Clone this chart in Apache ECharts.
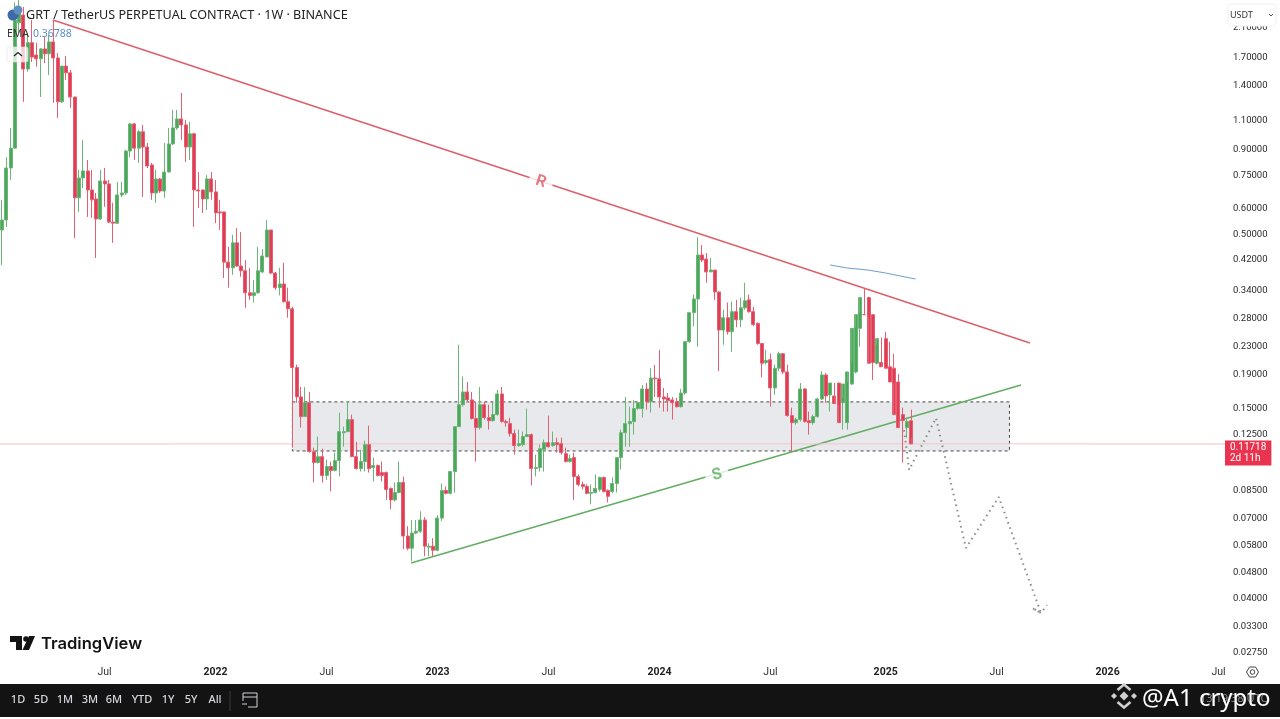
<!DOCTYPE html>
<html><head><meta charset="utf-8">
<style>html,body{margin:0;padding:0;background:#fff;overflow:hidden}#chart{width:1280px;height:719px;filter:blur(.35px)}</style>
<script src="https://cdn.jsdelivr.net/npm/echarts@6/dist/echarts.min.js"></script>
</head><body><div id="chart"></div>
<script>
const opens=[.516,.553,.793,.91,2.17,2.29,1.574,1.89,1.735,1.69,1.81,1.75,1.90,1.70,1.254,1.607,1.533,1.297,.645,.74,.777,.681,.64,.557,.725,.71,.545,.541,.658,.667,.892,1.076,.91,1.019,.917,.81,.667,.735,.676,.771,.937,1.047,1.114,1.069,.917,1.005,.681,.681,.64,.735,.672,.585,.585,.413,.397,.472,.402,.389,.334,.328,.334,.386,.428,.516,.383,.346,.355,.314,.299,.199,.1623,.1416,.156,.1111,.103,.1073,.0942,.1002,.0975,.1044,.1267,.1276,.1387,.1073,.0988,.1037,.1166,.0995,.1009,.0961,.0961,.0861,.0795,.0837,.0897,.0619,.0569,.0632,.064,.0692,.0573,.0577,.0561,.0701,.0849,.0832,.0968,.1321,.1538,.168,.159,.1397,.1312,.1538,.1406,.1377,.1436,.1657,.1368,.1349,.1259,.1158,.1166,.1233,.125,.0988,.0995,.1126,.1182,.1158,.1182,.1174,.1096,.1037,.1066,.0935,.0885,.0873,.0832,.0837,.0855,.0929,.0849,.0843,.0891,.1066,.1267,.1349,.1368,.1497,.1497,.1715,.157,.185,.184,.1623,.1612,.159,.157,.1517,.1668,.238,.291,.32,.434,.422,.386,.391,.336,.258,.281,.255,.293,.277,.301,.318,.293,.27,.235,.206,.21,.1727,.198,.219,.193,.1426,.1358,.1387,.1715,.1377,.1358,.1416,.16,.189,.1646,.1634,.1787,.156,.1358,.1775,.193,.261,.287,.323,.287,.205,.206,.243,.2,.198,.18,.1436,.1312,.1377,.1368];
const closes=[.553,.793,.91,2.21,2.40,1.574,1.89,1.71,1.69,1.81,1.75,1.90,1.70,1.254,1.607,1.533,1.297,.645,.74,.777,.681,.636,.557,.725,.71,.545,.541,.658,.667,.892,1.076,.91,1.019,.917,.804,.667,.735,.676,.771,.937,1.047,1.114,1.069,.917,1.005,.681,.676,.64,.735,.672,.581,.581,.413,.397,.472,.402,.389,.334,.328,.334,.389,.431,.516,.383,.346,.355,.314,.299,.199,.1623,.1416,.156,.1111,.103,.1073,.0942,.1002,.0975,.1044,.1276,.1276,.1387,.1073,.0988,.1037,.1166,.0988,.1009,.0942,.0942,.0855,.0795,.0837,.0897,.0619,.0569,.0632,.064,.0692,.0577,.0577,.0561,.0701,.0849,.0832,.0968,.1321,.1538,.168,.159,.1397,.1312,.1538,.1406,.1377,.1436,.1657,.1368,.1358,.1259,.1158,.1174,.1233,.125,.0988,.0995,.1134,.1182,.115,.1182,.1166,.1103,.1037,.1059,.0935,.0885,.0873,.0832,.0837,.0861,.0929,.0843,.0815,.0891,.1066,.1267,.1349,.1368,.1497,.156,.1715,.157,.185,.184,.1623,.16,.158,.156,.1517,.1668,.238,.291,.32,.434,.419,.386,.391,.336,.258,.281,.255,.293,.277,.301,.316,.293,.268,.235,.205,.209,.1727,.198,.219,.193,.1426,.1358,.1387,.1715,.1368,.1358,.1416,.16,.189,.1634,.1787,.155,.1358,.1775,.193,.261,.287,.323,.287,.205,.206,.243,.2,.198,.18,.1436,.1312,.1377,.1368,.11718];
const lows=[.405,.527,.73,.91,2.02,1.254,1.545,1.654,1.60,1.297,1.64,1.51,1.245,1.122,1.245,1.46,1.203,.488,.585,.69,.565,.561,.425,.553,.606,.541,.472,.538,.649,.658,.854,.8385,.821,.649,.793,.636,.623,.667,.645,.771,.93,1.033,.963,.827,.8385,.527,.602,.581,.593,.636,.541,.516,.37,.346,.378,.40,.373,.301,.318,.312,.332,.383,.428,.38,.341,.328,.312,.281,.1142,.156,.1312,.1416,.1103,.0897,.1023,.0897,.0913,.0843,.0968,.0935,.115,.1276,.1073,.0981,.0968,.0968,.0961,.0903,.0935,.0903,.0795,.0745,.0787,.0832,.0565,.0561,.052,.0627,.0632,.0538,.0538,.0538,.0557,.0687,.0826,.0826,.0837,.1321,.1517,.157,.1387,.1037,.1294,.1387,.1294,.1368,.1426,.1358,.1321,.1233,.1088,.115,.115,.1233,.0879,.0935,.0968,.0968,.1142,.115,.1103,.1088,.103,.103,.0795,.0873,.0855,.0826,.0771,.0832,.0843,.0837,.0782,.0832,.0837,.0981,.115,.115,.125,.1486,.1406,.1486,.1456,.1623,.1507,.1466,.1466,.1387,.1507,.1507,.1646,.236,.265,.23,.413,.358,.386,.318,.194,.233,.25,.222,.263,.263,.297,.291,.265,.233,.186,.203,.1517,.1646,.194,.19,.1416,.1111,.134,.1368,.1358,.125,.134,.1406,.159,.156,.1466,.1634,.1538,.1294,.1294,.1763,.191,.23,.287,.283,.1825,.203,.205,.199,.18,.1787,.1368,.103,.1224,.1224,.1111];
const highs=[.636,.854,1.047,2.50,2.54,2.42,2.02,2.21,1.89,1.82,1.965,1.993,2.21,1.76,1.607,1.724,1.565,1.297,.782,.963,.8385,.782,.667,.782,.793,.73,.623,.72,.72,.899,1.084,1.084,1.033,1.069,.943,.821,.782,.74,.943,1.047,1.186,1.186,1.334,1.107,1.092,1.012,.771,.681,.755,.771,.73,.636,.585,.459,.499,.523,.509,.419,.397,.365,.459,.452,.553,.516,.386,.397,.411,.346,.303,.203,.1739,.1739,.168,.1142,.1233,.1134,.1051,.1037,.1103,.1456,.1321,.158,.1436,.119,.1126,.1199,.133,.1066,.1016,.1037,.0968,.0867,.0897,.1037,.0935,.0663,.0692,.0692,.0735,.0706,.0589,.061,.0715,.0891,.0873,.0968,.1321,.233,.187,.18,.168,.157,.1739,.157,.1538,.157,.1703,.1739,.1387,.1406,.1294,.1294,.1276,.1497,.1259,.1088,.1166,.1207,.1426,.1276,.1224,.1224,.1142,.1088,.1103,.0948,.0903,.0885,.0885,.0948,.0935,.0935,.0855,.0929,.1066,.1294,.1623,.1517,.159,.157,.1763,.1787,.198,.2026,.225,.1727,.1668,.1623,.1612,.1715,.238,.293,.33,.491,.465,.44,.425,.391,.336,.297,.312,.314,.318,.323,.358,.33,.303,.272,.236,.225,.219,.203,.222,.22,.203,.1507,.1406,.1787,.1727,.1466,.1436,.1612,.194,.1915,.1787,.1787,.1787,.1612,.18,.207,.263,.291,.344,.325,.287,.233,.245,.255,.238,.219,.19,.1507,.1406,.1486,.1368];
const tickWeeks=['2021-07-05','2022-01-03','2022-07-04','2023-01-02','2023-07-03','2024-01-01','2024-07-01','2025-01-06','2025-07-07','2026-01-05','2026-07-06'];
const tickLabels=['Jul','2022','Jul','2023','Jul','2024','Jul','2025','Jul','2026','Jul'];
const priceTicks=[2.1,1.7,1.4,1.1,.9,.75,.6,.5,.42,.34,.28,.23,.19,.15,.125,.105,.085,.07,.058,.048,.04,.033,.0275];
const lastPrice=.11718;
const lastPriceLine=[[-.5,lastPrice],[286.5,lastPrice]];
const resistance=[[11.92,2.212],[240.8,.2359]];
const support=[[95.8,.05137],[238.7,.1763]];
const emaLine=[[194,.405],[198,.3965],[202.9,.391],[207,.383],[210.5,.375],[214,.3675]];
const projection=[[211.3,.129],[212.5,.098],[218.8,.1402],[225.8,.05697],[233.5,.0811],[243.4,.0363],[241.3,.0376],[243.4,.0363],[244.8,.03837]];
const zoneWeeks=[68,236], zonePrices=[.1568,.1116];
const lineTags=[{name:'R',at:[126.2,.72],rot:-18,color:'#dc5a68'},{name:'S',at:[167.5,.0945],rot:16,color:'#5fae62'}];
const periods=['1D','5D','1M','3M','6M','YTD','1Y','5Y','All'];
const periodX=[18,41,65,90,114,142,168,191,215];

const weeks=[];
for(let i=0;i<287;i++){weeks.push(new Date(Date.UTC(2021,0,18)+i*7*864e5).toISOString().slice(0,10));}
const green='#4aa85b',red='#e03d55';
const candles=opens.map((o,i)=>[o,closes[i],lows[i],highs[i]]);
const T=(x,y,text,o)=>({type:'text',x,y,z:100,silent:true,style:Object.assign({text,font:'12px "Noto Sans"',fill:'#222',textVerticalAlign:'middle'},o||{})});
const footer=periods.map((p,i)=>T(periodX[i],700,p,{fill:'#d6d8de',font:'500 11px "Noto Sans"',textAlign:'center'}));
const chart=echarts.init(document.getElementById('chart'));
chart.setOption({
 animation:false,
 backgroundColor:'#fff',
 grid:{left:-1,top:0,width:1226,height:660},
 xAxis:[{type:'category',data:weeks,boundaryGap:true,axisLine:{show:false},axisTick:{show:false},splitLine:{show:false},
   axisLabel:{interval:i=>tickWeeks.includes(weeks[i]),hideOverlap:false,margin:7,
     formatter:v=>{const k=tickWeeks.indexOf(v);if(k<0)return '';const t=tickLabels[k];return /^\d/.test(t)?'{b|'+t+'}':'{n|'+t+'}';},
     rich:{b:{fontFamily:'Roboto',fontWeight:700,fontSize:10.5,color:'#222'},n:{fontFamily:'Roboto',fontSize:10.5,color:'#333'}}}},
  {type:'value',min:-.5,max:286.5,show:false}],
 yAxis:{type:'log',logBase:10,min:.02622,max:2.54,position:'right',axisLine:{show:false},axisTick:{show:false},splitLine:{show:false},minorSplitLine:{show:false},
   axisLabel:{customValues:priceTicks,margin:8,padding:[2,0,0,0],fontFamily:'Roboto',fontSize:9.5,color:'#2a2a2a',formatter:v=>(+v).toFixed(5)}},
 series:[
  {type:'line',name:'S',xAxisIndex:1,z:2,data:support,showSymbol:false,silent:true,lineStyle:{color:'#62ad62',width:1.5}},
  {type:'line',name:'Zone',xAxisIndex:1,z:3,data:[[zoneWeeks[0],zonePrices[0]],[zoneWeeks[1],zonePrices[1]]],showSymbol:false,silent:true,lineStyle:{width:0,opacity:0},
   markArea:{silent:true,itemStyle:{color:'rgba(120,123,144,.17)',borderColor:'#444',borderWidth:1,borderType:[3,3]},
    data:[[{coord:[zoneWeeks[0],zonePrices[0]]},{coord:[zoneWeeks[1],zonePrices[1]]}]]}},
  {type:'line',name:'Last price',xAxisIndex:1,z:3,data:lastPriceLine,showSymbol:false,silent:true,lineStyle:{color:'#f3c4ca',width:1},
   endLabel:{show:true,distance:0,offset:[0,9],formatter:'0.11718\n2d 11h',backgroundColor:'#e8344e',color:'#fff',fontFamily:'Roboto',fontSize:10,lineHeight:11.5,padding:[1,5],align:'left'}},
  {type:'candlestick',name:'GRTUSDT',z:4,barWidth:3.5,data:candles,silent:true,
   itemStyle:{color:green,color0:red,borderColor:'#6bb577',borderColor0:'#e45f72',borderWidth:1}},
  {type:'line',name:'R',xAxisIndex:1,z:5,data:resistance,showSymbol:false,silent:true,lineStyle:{color:'#dd5f6b',width:1.5}},
  {type:'line',name:'EMA',xAxisIndex:1,z:5,data:emaLine,showSymbol:false,silent:true,lineStyle:{color:'#6f9bd1',width:1}},
  {type:'line',name:'Projection',xAxisIndex:1,z:5,data:projection,showSymbol:false,silent:true,lineStyle:{color:'#8a8a8a',width:2,type:[1.5,4]}},
  {type:'scatter',name:'Tags',xAxisIndex:1,z:6,symbolSize:1,silent:true,itemStyle:{color:'rgba(0,0,0,0)'},
   data:lineTags.map(t=>({value:t.at,label:{show:true,position:'inside',formatter:t.name,rotate:t.rot,color:t.color,fontFamily:'Roboto',fontWeight:700,fontSize:16,backgroundColor:'#fff',padding:[0,7]}}))}
 ],
 graphic:[
  T(26,15.5,'GRT / TetherUS PERPETUAL CONTRACT · 1W · BINANCE',{font:'12.6px "Noto Sans"'}),
  T(7,34,'EMA',{font:'10.5px "Noto Sans"',fill:'#333'}),
  T(33,34,'0.36788',{font:'10.5px "Noto Sans"',fill:'#5b8ecb'}),
  {type:'circle',z:100,silent:true,shape:{cx:13,cy:15,r:5.5},style:{fill:'#3e6aa8'}},
  {type:'circle',z:100,silent:true,shape:{cx:18,cy:10,r:4.5},style:{fill:'#5f8fc0'}},
  {type:'rect',z:100,silent:true,shape:{x:7,y:47,width:21,height:15,r:2},style:{fill:'rgba(255,255,255,.75)',stroke:'rgba(225,225,225,.6)'}},
  {type:'polyline',z:101,silent:true,shape:{points:[[14,56],[18,52.5],[22,56]]},style:{stroke:'#222',lineWidth:1.2,fill:'none'}},
  {type:'rect',z:100,silent:true,shape:{x:1228,y:4,width:48,height:22,r:3},style:{fill:'#fff',stroke:'#f0f0f0'}},
  T(1230,15,'USDT',{font:'9px "Noto Sans"',fill:'#333'}),
  {type:'polyline',z:101,silent:true,shape:{points:[[1269,14],[1271,16],[1273,14]]},style:{stroke:'#555',lineWidth:1,fill:'none'}},
  {type:'polygon',z:100,silent:true,shape:{points:[[10,636],[22,636],[22,650],[16,650],[16,642],[10,642]]},style:{fill:'#131313'}},
  {type:'circle',z:100,silent:true,shape:{cx:26,cy:639,r:2.8},style:{fill:'#131313'}},
  {type:'polygon',z:100,silent:true,shape:{points:[[29,636],[35,636],[29,650],[22.5,650]]},style:{fill:'#131313'}},
  T(41,644,'TradingView',{font:'600 16.6px Inter',fill:'#131313'}),
  {type:'polygon',z:100,silent:true,shape:{points:[[1246.5,672],[1249.5,667],[1255.5,667],[1258.5,672],[1255.5,677],[1249.5,677]]},style:{fill:'none',stroke:'#444',lineWidth:1}},
  {type:'circle',z:100,silent:true,shape:{cx:1252.5,cy:672,r:2.3},style:{fill:'none',stroke:'#444',lineWidth:1}},
  {type:'rect',z:99,silent:true,shape:{x:0,y:684,width:1280,height:33},style:{fill:'#131313'}},
  ...footer,
  {type:'line',z:100,silent:true,shape:{x1:230,y1:691,x2:230,y2:711},style:{stroke:'#3a3a3a'}},
  {type:'polyline',z:100,silent:true,shape:{points:[[243,701],[243,693],[257,693],[257,707],[248,707]]},style:{stroke:'#cfd1d6',lineWidth:1,fill:'none'}},
  {type:'line',z:100,silent:true,shape:{x1:243,y1:697,x2:257,y2:697},style:{stroke:'#cfd1d6'}},
  {type:'line',z:100,silent:true,shape:{x1:242,y1:704,x2:247,y2:704},style:{stroke:'#cfd1d6'}},
  T(1200,699,'13:19:38 UTC',{font:'11px "Noto Sans"',fill:'#8a8a8a'}),
  {type:'polygon',z:101,silent:true,shape:{points:[[1124,691.5],[1128.5,696],[1124,700.5],[1119.5,696]]},style:{fill:'#cfcfcf'}},
  {type:'polygon',z:101,silent:true,shape:{points:[[1114,693],[1117,696],[1114,699],[1111,696]]},style:{fill:'#cfcfcf'}},
  {type:'polygon',z:101,silent:true,shape:{points:[[1134,693],[1137,696],[1134,699],[1131,696]]},style:{fill:'#cfcfcf'}},
  {type:'polyline',z:101,silent:true,shape:{points:[[1117.5,690],[1124,684.5],[1130.5,690]]},style:{stroke:'#cfcfcf',lineWidth:2.6,fill:'none'}},
  {type:'polyline',z:101,silent:true,shape:{points:[[1117.5,702],[1124,707.5],[1130.5,702]]},style:{stroke:'#cfcfcf',lineWidth:2.6,fill:'none'}},
  T(1142,699,'@A1 crypto',{font:'24px "Noto Sans"',fill:'#fff'})
 ]
});
</script></body></html>
